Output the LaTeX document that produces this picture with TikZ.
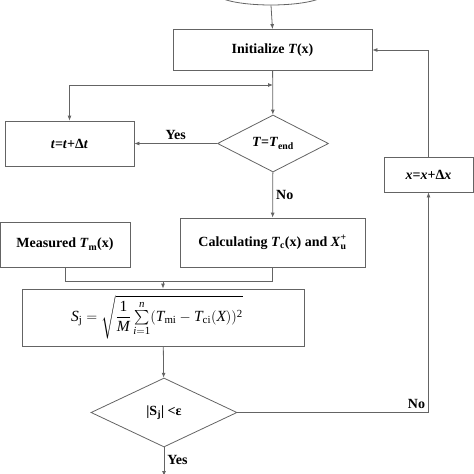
\documentclass[tikz,border=0pt]{standalone}
\usepackage{amsmath}
\usepackage{fontspec}
\setmainfont{Liberation Serif}
\usetikzlibrary{calc,positioning}
\usetikzlibrary{arrows.meta,shapes.geometric}
\definecolor{linegray}{RGB}{100,100,100}
\tikzstyle{entry}=[draw=linegray, line width=0.8pt, inner sep=0pt, align=center, font=\fontsize{14}{16}\selectfont\bfseries]
\tikzstyle{step box}=[entry, rectangle]
\tikzstyle{test}=[entry, diamond]
\tikzstyle{flow}=[draw=linegray, line width=0.8pt, -{Latex[length=5pt,width=4pt]}]
\tikzstyle{lbl}=[font=\fontsize{14}{16}\selectfont\bfseries, inner sep=3pt]

\begin{document}
\begin{tikzpicture}[x=1pt,y=-1pt]
\useasboundingbox (0,0) rectangle (474,474);
\node (start) [entry, ellipse, minimum width=110pt, minimum height=24pt] at (271,-7) {};
\node (init) [step box, minimum width=199pt, minimum height=41pt] at (272.5,50) {Initialize \textit{T}(x)};
\node (tend) [test, minimum width=111pt, minimum height=57pt, aspect=1.95] at (273,143.5) {\textit{T}=\textit{T}\textsubscript{end}};
\node (tstep) [step box, minimum width=129pt, minimum height=45pt] at (69.5,143.5) {\textit{t}=\textit{t}+Δ\textit{t}};
\node (xstep) [step box, minimum width=89pt, minimum height=35pt] at (428.5,174.5) {\textit{x}=\textit{x}+Δ\textit{x}};
\node (measured) [step box, minimum width=130pt, minimum height=45pt] at (65,244.5) {Measured \textit{T}\textsubscript{m}(x)};
\node (calc) [step box, minimum width=185pt, minimum height=49pt] at (272.5,242.5) {Calculating \textit{T}\textsubscript{c}(x) and \textit{X}$_{\text{u}}^{\text{+}}$};
\node (sj) [step box, minimum width=282pt, minimum height=57pt, font=\fontsize{15.5}{18}\selectfont] at (163,317.5)
  {\hspace*{-12pt}$\mathit{S}_{\mathrm{j}}=\sqrt{\dfrac{\mathrm{1}}{\mathit{M}}\sum\limits_{\mathit{i}=\mathrm{1}}^{\mathit{n}}(\mathit{T}_{\mathrm{mi}}-\mathit{T}_{\mathrm{ci}}(\mathit{X}))^{\mathrm{2}}}$};
\node (conv) [test, minimum width=146pt, minimum height=69pt, aspect=2.1] at (164,412.5) {|S\textsubscript{j}| <ε};
\coordinate (split) at (273,85);
\coordinate (merge) at (163,281);
\coordinate (finish) at (164,476);

\draw [flow] (start.south) -- (init.north);
\draw [flow] (init) -- (tend);
\draw [flow, {Latex[length=5pt,width=4pt]}-{Latex[length=5pt,width=4pt]}] (tstep.north) |- (split);
\draw [flow] (tend) -- node[lbl, above] {Yes} (tstep);
\draw [flow] (tend) -- node[lbl, right] {No} (calc);
\draw [flow, -] (measured.south) |- (merge);
\draw [flow, -] (calc.south) |- (merge);
\draw [flow] (merge) -- (sj);
\draw [flow] (sj) -- (conv);
\draw [flow] (conv.east) -| node[lbl, pos=0.5, above left] {No} (xstep.south);
\draw [flow] (xstep.north) |- (init.east);
\draw [flow] (conv.south) -- node[lbl, right, pos=0.45] {Yes} (finish);
\end{tikzpicture}
\end{document}
